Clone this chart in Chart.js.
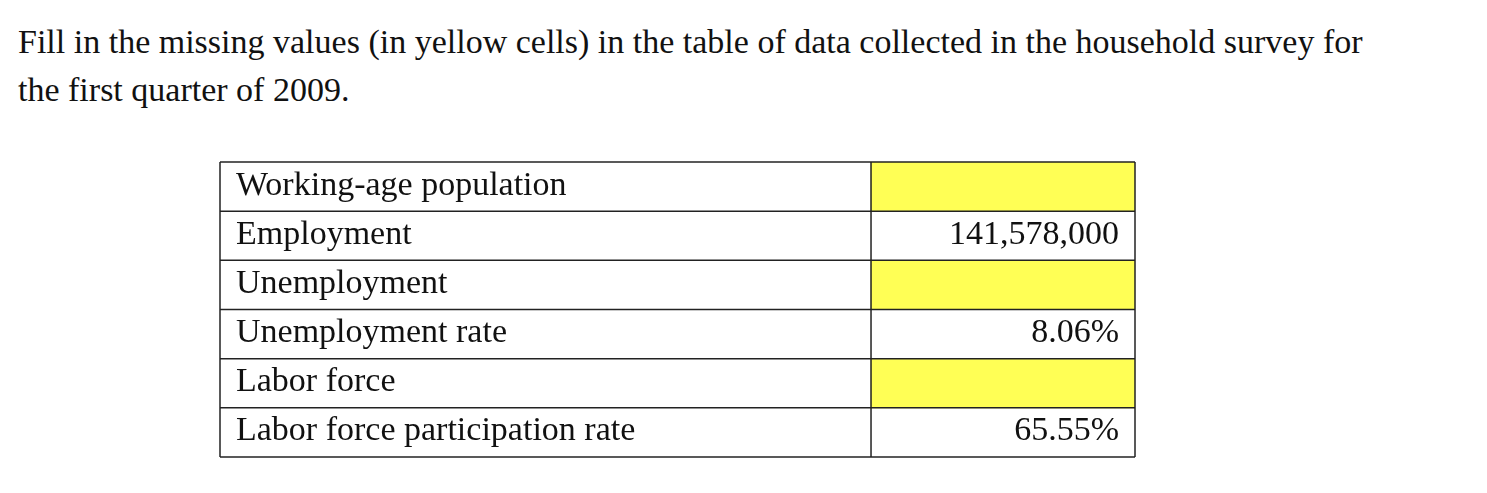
<!DOCTYPE html>
<html><head><meta charset="utf-8">
<script src="https://cdn.jsdelivr.net/npm/chart.js@4"></script>
<style>
body{margin:0;background:#fff;width:1487px;height:493px;overflow:hidden;position:relative;font-family:"Liberation Serif",serif;}
#t{position:absolute;left:18px;top:18px;font-size:34px;line-height:48px;color:#111;width:1460px;white-space:nowrap;}
#w{position:absolute;left:219px;top:161px;width:917px;height:297px;}
</style></head><body>
<div id="t">Fill in the missing values (in yellow cells) in the table of data collected in the household survey for<br>the first quarter of 2009.</div>
<div id="w"><canvas id="c"></canvas></div>
<script>
const rowLabels=["Working-age population","Employment","Unemployment","Unemployment rate","Labor force","Labor force participation rate"];
const values=["","141,578,000","","8.06%","","65.55%"];
const missing=[true,false,true,false,true,false];
const split=0.7115;
const yellowBars=missing.map(m=>m?[split,1]:null);
const tablePlugin={id:'tbl',afterDatasetsDraw(ch){
 const ctx=ch.ctx,x=ch.scales.x,y=ch.scales.y;
 const L=x.getPixelForValue(0),R=x.getPixelForValue(1),M=x.getPixelForValue(split);
 const n=rowLabels.length,h=(y.bottom-y.top)/n;
 ctx.save();ctx.strokeStyle='#222';ctx.lineWidth=1.5;
 for(let i=0;i<=n;i++){const yy=y.top+i*h;ctx.beginPath();ctx.moveTo(L,yy);ctx.lineTo(R,yy);ctx.stroke();}
 [L,M,R].forEach(xx=>{ctx.beginPath();ctx.moveTo(xx,y.top);ctx.lineTo(xx,y.bottom);ctx.stroke();});
 ctx.fillStyle='#111';ctx.font='34px "Liberation Serif", serif';ctx.textBaseline='middle';
 rowLabels.forEach((l,i)=>{const yc=y.getPixelForValue(i)-1;ctx.textAlign='left';ctx.fillText(l,L+16,yc);
  ctx.textAlign='right';ctx.fillText(values[i],R-16,yc);});
 ctx.restore();}};
new Chart(document.getElementById('c'),{type:'bar',
 data:{labels:rowLabels,datasets:[{data:yellowBars,backgroundColor:'#ffff55',borderWidth:0,barPercentage:1,categoryPercentage:1}]},
 options:{indexAxis:'y',responsive:true,maintainAspectRatio:false,animation:false,
  layout:{padding:1},
  plugins:{legend:{display:false},tooltip:{enabled:false}},
  scales:{x:{type:'linear',min:0,max:1,display:false},y:{type:'category',offset:true,display:false}}},
 plugins:[tablePlugin]});
</script></body></html>
